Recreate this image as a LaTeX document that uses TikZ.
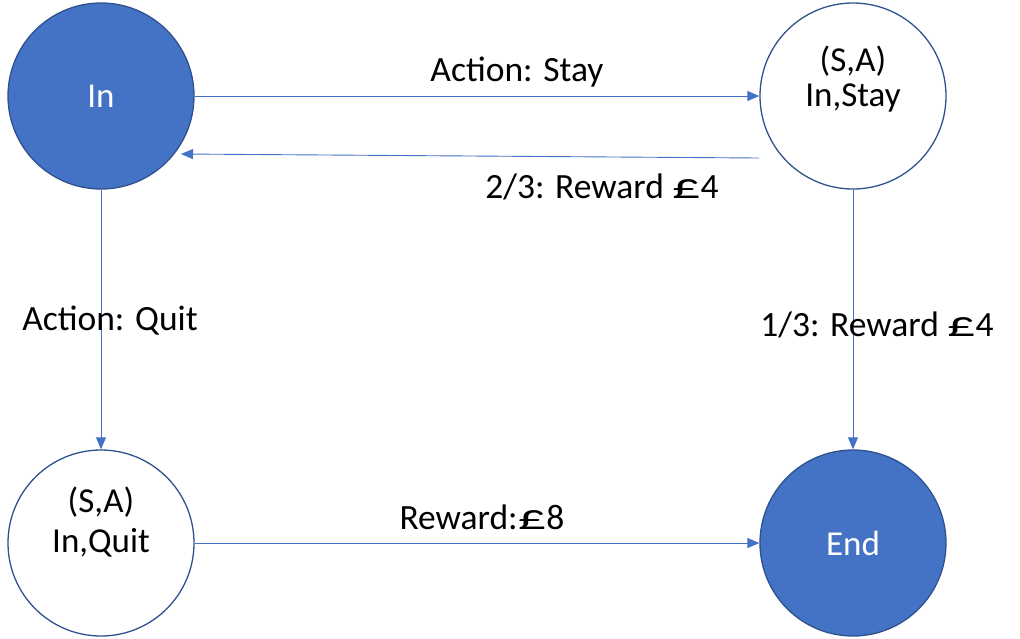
\documentclass[tikz,border=0pt]{standalone}
\usepackage{fontspec}
\usepackage{graphicx}
\setmainfont{Carlito}
\usetikzlibrary{arrows.meta}
\definecolor{fillblue}{HTML}{4472C4}
\definecolor{edgeblue}{HTML}{2F528F}
\definecolor{lineblue}{HTML}{4472C4}
\newcommand\wpound{\scalebox{1.6}[1]{£}}
\begin{document}
\begin{tikzpicture}[x=1pt,y=-1pt,
  state/.style={circle, draw=edgeblue, line width=1.3pt, minimum size=186pt, inner sep=0pt,
    font=\fontsize{35}{38}\selectfont, align=center},
  filled/.style={state, fill=fillblue, text=white},
  empty/.style={state, fill=white, text=black},
  conn/.style={draw=lineblue, line width=0.9pt, -{Triangle[length=12pt,width=10pt]}},
  lbl/.style={font=\fontsize{35.5}{38}\selectfont, inner sep=0pt, text=black, align=center}]
\useasboundingbox (0,0) rectangle (1020,638);
\node[filled] (in) at (101,96) {In};
\node[empty] (stay) at (853,96) {};
\node[empty] (quit) at (101,543) {};
\node[filled] (end) at (853,543) {End};
\node[lbl, font=\fontsize{35}{35}\selectfont] (staytxt) at (853,79) {(S,A)\\In,Stay};
\node[lbl, font=\fontsize{35}{40}\selectfont] (quittxt) at (101,522) {(S,A)\\In,Quit};
\coordinate (r0) at (759,158);
\coordinate (r1) at (181,154);
\draw[conn] (in.east) -- (stay.west);
\draw[conn] (r0) -- (r1);
\draw[conn] (in.south) -- (quit.north);
\draw[conn] (stay.south) -- (end.north);
\draw[conn] (quit.east) -- (end.west);
\node[lbl] (l1) at (517,72) {Action: Stay};
\node[lbl] (l2) at (602,187) {2/3: Reward \wpound4};
\node[lbl] (l3) at (110,321) {Action: Quit};
\node[lbl] (l4) at (877,325) {1/3: Reward \wpound4};
\node[lbl] (l5) at (482,517) {Reward:\wpound8};
\end{tikzpicture}
\end{document}
